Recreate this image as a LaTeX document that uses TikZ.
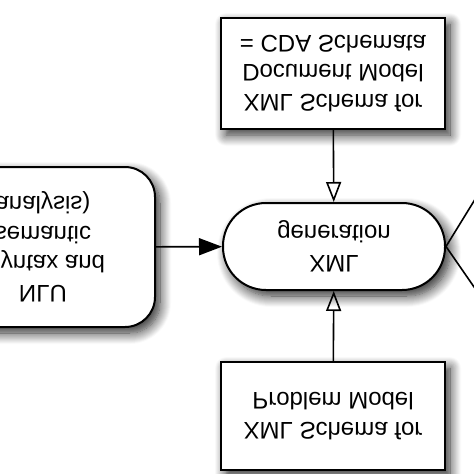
\documentclass[tikz,border=0pt]{standalone}
\usepackage{fontspec}
\setmainfont{Liberation Sans}
\usetikzlibrary{arrows.meta,shadows.blur}

\begin{document}
\begin{tikzpicture}[x=1pt,y=1pt,yscale=-1,
  every node/.style={transform shape,font=\fontsize{24}{29.5}\selectfont,align=center},
  shadowed/.style={fill=white,line width=2pt,draw=black,
    blur shadow={shadow xshift=5pt,shadow yshift=-6pt,shadow blur radius=11pt,shadow blur steps=12,shadow opacity=85}},
  schemabox/.style={shadowed,minimum width=224pt,minimum height=111pt},
  procbox/.style={shadowed,rounded corners=#1},
  openarrow/.style={line width=1.6pt,-{Triangle[open,length=20pt,width=15pt,line width=1.6pt]}},
  fullarrow/.style={line width=1.6pt,-{Triangle[length=23pt,width=17pt]}}]
  \useasboundingbox (0,0) rectangle (474,474);
  \clip (0,0) rectangle (474,474);
  % boxes
  \node[schemabox] (cda) at (333,73.5) {XML Schema for\\Document Model\\= CDA Schemata};
  \node[schemabox,minimum height=108pt] (problem) at (333,416) {XML Schema for\\Problem Model};
  \node[procbox=43pt,minimum width=222pt,minimum height=87pt] (xmlgen) at (334,246.5) {XML\\generation};
  \node[procbox=30pt,minimum width=224pt,minimum height=160pt] (nlu) at (43,247) {NLU\\(syntax and\\semantic\\analysis)};
  % connectors
  \coordinate (outA) at (490,175);
  \coordinate (outB) at (490,310);
  \draw[openarrow] (cda) -- (xmlgen);
  \draw[openarrow] (problem) -- (xmlgen);
  \draw[fullarrow] (nlu) -- (xmlgen);
  \draw[line width=1.6pt] (xmlgen.east) -- (outA);
  \draw[line width=1.6pt] (xmlgen.east) -- (outB);
\end{tikzpicture}
\end{document}
